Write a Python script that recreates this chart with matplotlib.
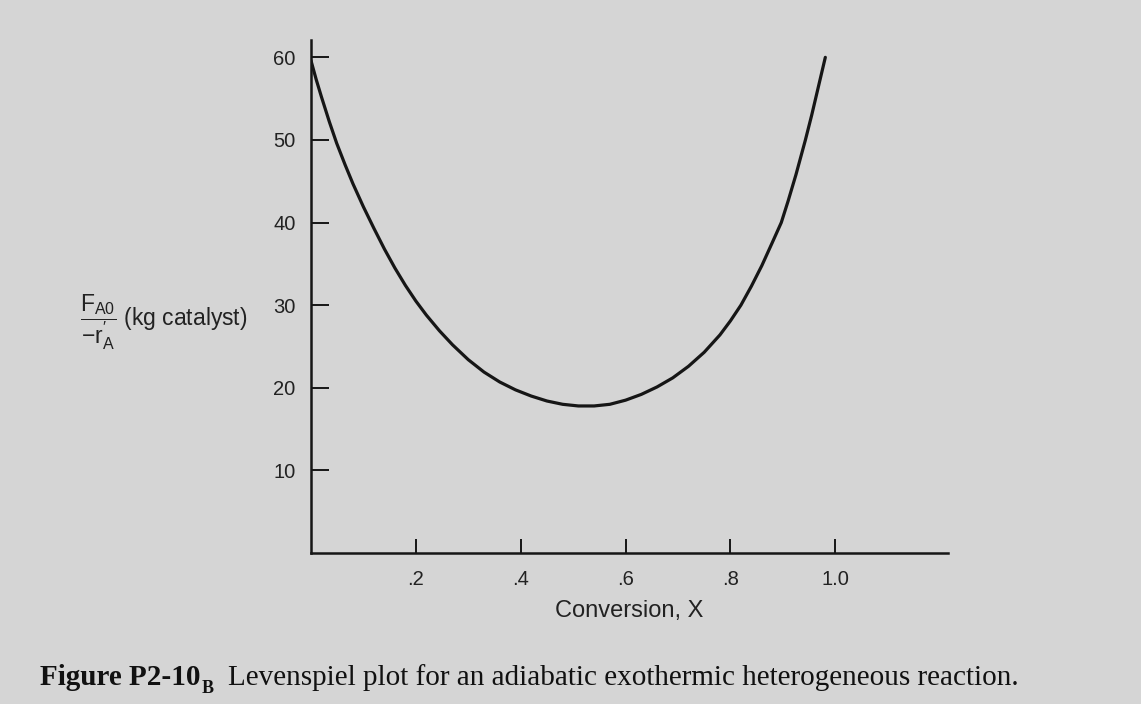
import matplotlib
matplotlib.use("Agg")
import matplotlib.pyplot as plt

# Levenspiel curve
conversion = [0.000, 0.010, 0.020, 0.035, 0.049, 0.065, 0.080, 0.100, 0.120,
              0.140, 0.160, 0.180, 0.200, 0.220, 0.245, 0.270, 0.300, 0.330,
              0.360, 0.390, 0.420, 0.450, 0.480, 0.510, 0.540, 0.570, 0.600,
              0.630, 0.660, 0.690, 0.720, 0.750, 0.780, 0.800, 0.820, 0.840,
              0.860, 0.880, 0.897, 0.910, 0.925, 0.943, 0.955, 0.968, 0.981]
fa0_over_ra = [59.6, 57.3, 55.2, 52.2, 49.6, 47.0, 44.7, 41.9, 39.3,
               36.8, 34.5, 32.4, 30.5, 28.8, 26.9, 25.2, 23.4, 21.9,
               20.7, 19.75, 19.0, 18.4, 18.0, 17.8, 17.8, 18.0, 18.5,
               19.2, 20.1, 21.2, 22.6, 24.3, 26.4, 28.1, 30.0, 32.3,
               34.8, 37.6, 40.0, 42.6, 45.8, 50.0, 53.0, 56.5, 60.0]

x_ticks = [0.2, 0.4, 0.6, 0.8, 1.0]
x_tick_labels = [".2", ".4", ".6", ".8", "1.0"]
y_ticks = [10, 20, 30, 40, 50, 60]

plt.rcParams["mathtext.fontset"] = "custom"
plt.rcParams["mathtext.rm"] = "Liberation Sans"
plt.rcParams["mathtext.it"] = "Liberation Sans:italic"

bg = "#d5d5d5"
ink = "#161616"
text_col = "#222222"

fig = plt.figure(figsize=(11.41, 7.04), dpi=100, facecolor=bg)
ax = fig.add_axes([311 / 1141, 1 - 553 / 704, (948 - 311) / 1141, (553 - 40) / 704])
ax.set_facecolor("none")

ax.plot(conversion, fa0_over_ra, color=ink, lw=2.3, solid_capstyle="round",
        solid_joinstyle="round")

ax.set_xlim(0, 1.215)
ax.set_ylim(0, 62.1)
for side in ("top", "right"):
    ax.spines[side].set_visible(False)
for side in ("left", "bottom"):
    ax.spines[side].set_linewidth(1.8)
    ax.spines[side].set_color(ink)

ax.set_xticks(x_ticks)
ax.set_xticklabels(x_tick_labels, family="Liberation Sans", fontsize=14.5, color=text_col)
ax.set_yticks(y_ticks)
ax.set_yticklabels([str(v) for v in y_ticks], family="Liberation Sans", fontsize=14.5,
                   color=text_col)
ax.tick_params(axis="x", direction="in", length=10, width=1.4, color=ink, pad=12)
ax.tick_params(axis="y", direction="in", length=13, width=1.4, color=ink, pad=11)

ax.set_xlabel("Conversion, X", family="Liberation Sans", fontsize=17, color=text_col,
              labelpad=8)

fig.text(80 / 1141, 1 - 322 / 704,
         r"$\dfrac{\mathrm{F}_{\mathrm{A0}}}{-\mathrm{r}^{\prime}_{\mathrm{A}}}$ (kg catalyst)",
         family="Liberation Sans", fontsize=16.5, color=text_col, ha="left", va="center")

# caption: bold figure number with subscript, then the description
cap = fig.text(40 / 1141, 1 - 691 / 704, "Figure P2-10", family="Liberation Serif",
               fontweight="bold", fontsize=21, color="#111111", ha="left", va="bottom")
sub = ax.annotate("B", xy=(1, 0), xycoords=cap, xytext=(0.5, -4),
                  textcoords="offset points", family="Liberation Serif",
                  fontweight="bold", fontsize=13, color="#111111",
                  ha="left", va="bottom", annotation_clip=False)
ax.annotate("Levenspiel plot for an adiabatic exothermic heterogeneous reaction.",
            xy=(1, 0), xycoords=cap, xytext=(20, 0), textcoords="offset points",
            family="Liberation Serif", fontsize=21, color="#111111",
            ha="left", va="bottom", annotation_clip=False)

fig.savefig("out.png", dpi=100, facecolor=bg)
